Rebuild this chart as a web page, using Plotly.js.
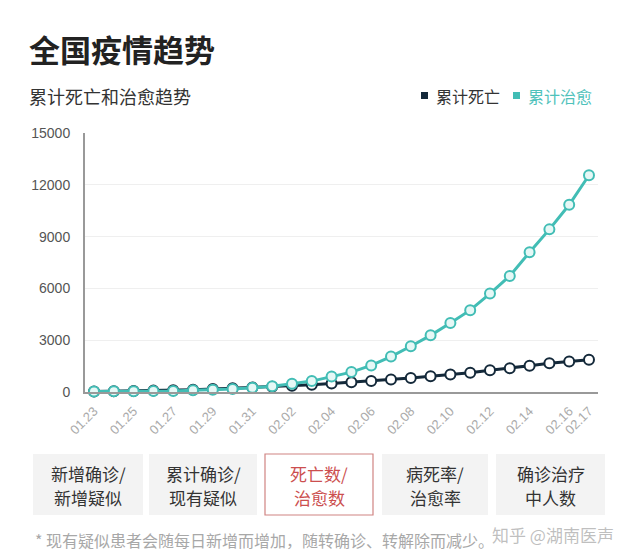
<!DOCTYPE html>
<html>
<head>
<meta charset="utf-8">
<script src="https://cdn.plot.ly/plotly-3.0.1.min.js"></script>
<style>
html,body{margin:0;padding:0;background:#fff;}
#chart{width:640px;height:560px;}
</style>
</head>
<body>
<div id="chart"></div>
<script>
// ---- data ----
const dates = ['01.23','01.24','01.25','01.26','01.27','01.28','01.29','01.30','01.31',
  '02.01','02.02','02.03','02.04','02.05','02.06','02.07','02.08','02.09','02.10',
  '02.11','02.12','02.13','02.14','02.15','02.16','02.17'];
const deaths = [25,41,56,80,106,132,170,213,259,304,361,425,490,563,636,722,811,908,1016,1113,1265,1380,1523,1665,1770,1868];
const cured = [34,38,49,51,60,103,124,171,243,328,475,632,892,1153,1540,2050,2649,3281,3996,4740,5700,6723,8096,9419,10844,12552];
const xTickLabels = ['01.23','01.25','01.27','01.29','01.31','02.02','02.04','02.06','02.08','02.10','02.12','02.14','02.16','02.17'];
const yTicks = [0,3000,6000,9000,12000,15000];
const seriesNames = ['累计死亡','累计治愈'];
const titleText = '全国疫情趋势';
const subtitleText = '累计死亡和治愈趋势';
const buttonLine1 = ['新增确诊/','累计确诊/','死亡数/','病死率/','确诊治疗'];
const buttonLine2 = ['新增疑似','现有疑似','治愈数','治愈率','中人数'];
const footnoteText = '* 现有疑似患者会随每日新增而增加，随转确诊、转解除而减少。';
const watermarkText = '知乎 @湖南医声';

// ---- layout geometry (pixels) ----
const L = 85, R = 598, T = 133, B = 392;
const W = R - L, H = B - T;
const px = x => (x - L) / W;
const py = y => (B - y) / H;

const DARK = '#14293a';
const TEAL = '#42bdb5';
const CJK = '"Noto Sans CJK SC", "Noto Sans", sans-serif';
const NUM = '"Liberation Sans", Arial, sans-serif';

const traces = [
  {
    x: dates, y: deaths, name: seriesNames[0], type: 'scatter', mode: 'lines+markers',
    line: {color: DARK, width: 3},
    marker: {size: 10, color: '#ffffff', line: {color: DARK, width: 2}},
    cliponaxis: false
  },
  {
    x: dates, y: cured, name: seriesNames[1], type: 'scatter', mode: 'lines+markers',
    line: {color: TEAL, width: 3},
    marker: {size: 10, color: '#e6f8f6', line: {color: TEAL, width: 2}},
    cliponaxis: false
  }
];

const shapes = [];
const annotations = [];

// title & subtitle
annotations.push({xref:'paper', yref:'paper', x: px(27), y: py(48), xanchor:'left', yanchor:'middle',
  text: titleText, showarrow:false, font:{family:CJK, size:31, color:'#222222', weight:700}});
annotations.push({xref:'paper', yref:'paper', x: px(27), y: py(96), xanchor:'left', yanchor:'middle',
  text: subtitleText, showarrow:false, font:{family:CJK, size:18, color:'#333333'}});

// legend
const legendItems = [
  {sx: 421, tx: 434, color: DARK, tcolor: '#333333', name: seriesNames[0]},
  {sx: 513, tx: 526, color: TEAL, tcolor: '#4fc2bb', name: seriesNames[1]}
];
legendItems.forEach(it => {
  shapes.push({type:'rect', xref:'paper', yref:'paper', x0: px(it.sx), x1: px(it.sx + 7),
    y0: py(99), y1: py(92), fillcolor: it.color, line:{width:0}});
  annotations.push({xref:'paper', yref:'paper', x: px(it.tx), y: py(96), xanchor:'left', yanchor:'middle',
    text: it.name, showarrow:false, font:{family:CJK, size:16, color: it.tcolor}});
});

// buttons
const btnX = [[33,143],[149,257],[265,373],[382,488],[496,605]];
const btnTop = 454, btnBot = 515;
btnX.forEach((b, i) => {
  const sel = i === 2;
  shapes.push({type:'rect', xref:'paper', yref:'paper', x0: px(b[0]), x1: px(b[1]),
    y0: py(btnBot), y1: py(btnTop), fillcolor: sel ? '#ffffff' : '#f3f3f3',
    line: sel ? {color:'#d08482', width:1.2} : {width:0}, layer:'below'});
  const f = {family:CJK, size:17, color: sel ? '#cc4f4f' : '#333333'};
  annotations.push({xref:'paper', yref:'paper', x: px((b[0]+b[1])/2), y: py(473),
    xanchor:'center', yanchor:'middle', text: buttonLine1[i], showarrow:false, font: f});
  annotations.push({xref:'paper', yref:'paper', x: px((b[0]+b[1])/2), y: py(497),
    xanchor:'center', yanchor:'middle', text: buttonLine2[i], showarrow:false, font: f});
});

// footnote & watermark
annotations.push({xref:'paper', yref:'paper', x: px(33), y: py(540), xanchor:'left', yanchor:'middle',
  text: footnoteText, showarrow:false, font:{family:CJK, size:16, color:'#a8a8a8'}});
annotations.push({xref:'paper', yref:'paper', x: px(490), y: py(534), xanchor:'left', yanchor:'middle',
  text: watermarkText, showarrow:false, font:{family:CJK, size:17, color:'rgba(170,170,170,0.75)'}});

const layout = {
  width: 640, height: 560,
  margin: {l: L, r: 640 - R, t: T, b: 560 - B, pad: 0},
  paper_bgcolor: '#ffffff', plot_bgcolor: '#ffffff',
  showlegend: false,
  xaxis: {
    type: 'category', range: [-0.455, dates.length - 1 + 0.455],
    tickmode: 'array', tickvals: xTickLabels, ticktext: xTickLabels,
    tickangle: -45, tickfont: {family: NUM, size: 13, color: '#ababab'},
    showgrid: false, zeroline: false, showline: true, linecolor: '#999999', linewidth: 1.5,
    ticks: '', ticklabelstandoff: 5, fixedrange: true
  },
  yaxis: {
    range: [0, 15000], tickmode: 'array', tickvals: yTicks, ticktext: yTicks.map(String),
    tickfont: {family: NUM, size: 14, color: '#555555'},
    showgrid: true, gridcolor: '#efefef', gridwidth: 1,
    zeroline: false, showline: true, linecolor: '#999999', linewidth: 2,
    ticks: '', ticklabelstandoff: 10, fixedrange: true
  },
  shapes: shapes,
  annotations: annotations
};

Plotly.newPlot('chart', traces, layout, {displayModeBar: false, staticPlot: true});
</script>
</body>
</html>
